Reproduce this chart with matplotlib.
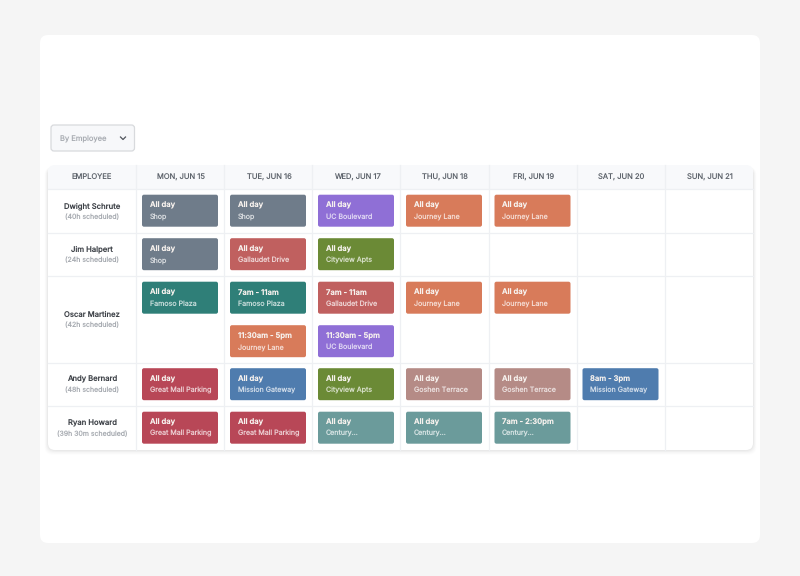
import matplotlib
matplotlib.use("Agg")
import matplotlib.pyplot as plt
from matplotlib.patches import FancyBboxPatch, Rectangle

plt.rcParams['font.family'] = ['Inter', 'DejaVu Sans']
plt.rcParams['text.hinting'] = 'none'
plt.rcParams['text.hinting_factor'] = 1

header_first = "EMPLOYEE"
days = ["MON, JUN 15", "TUE, JUN 16", "WED, JUN 17", "THU, JUN 18", "FRI, JUN 19", "SAT, JUN 20", "SUN, JUN 21"]
employees = ["Dwight Schrute", "Jim Halpert", "Oscar Martinez", "Andy Bernard", "Ryan Howard"]
scheduled = ["(40h scheduled)", "(24h scheduled)", "(42h scheduled)", "(48h scheduled)", "(39h 30m scheduled)"]
dropdown_label = "By Employee"

site_colors = {
    "Shop": "#6f7c8a", "UC Boulevard": "#8f6fd6", "Journey Lane": "#d87b5a",
    "Gallaudet Drive": "#c0605f", "Cityview Apts": "#6b8a36", "Famoso Plaza": "#2f7f78",
    "Great Mall Parking": "#b84757", "Mission Gateway": "#4f7cae",
    "Goshen Terrace": "#b58b86", "Century...": "#6b9b9b",
}

# employee index, day index, slot, time label, site
shifts = [
    (0, 0, 0, "All day", "Shop"), (0, 1, 0, "All day", "Shop"), (0, 2, 0, "All day", "UC Boulevard"),
    (0, 3, 0, "All day", "Journey Lane"), (0, 4, 0, "All day", "Journey Lane"),
    (1, 0, 0, "All day", "Shop"), (1, 1, 0, "All day", "Gallaudet Drive"), (1, 2, 0, "All day", "Cityview Apts"),
    (2, 0, 0, "All day", "Famoso Plaza"), (2, 1, 0, "7am - 11am", "Famoso Plaza"),
    (2, 1, 1, "11:30am - 5pm", "Journey Lane"), (2, 2, 0, "7am - 11am", "Gallaudet Drive"),
    (2, 2, 1, "11:30am - 5pm", "UC Boulevard"), (2, 3, 0, "All day", "Journey Lane"),
    (2, 4, 0, "All day", "Journey Lane"),
    (3, 0, 0, "All day", "Great Mall Parking"), (3, 1, 0, "All day", "Mission Gateway"),
    (3, 2, 0, "All day", "Cityview Apts"), (3, 3, 0, "All day", "Goshen Terrace"),
    (3, 4, 0, "All day", "Goshen Terrace"), (3, 5, 0, "8am - 3pm", "Mission Gateway"),
    (4, 0, 0, "All day", "Great Mall Parking"), (4, 1, 0, "All day", "Great Mall Parking"),
    (4, 2, 0, "All day", "Century..."), (4, 3, 0, "All day", "Century..."),
    (4, 4, 0, "7am - 2:30pm", "Century..."),
]

col_x = [48, 136, 224, 312, 400, 488.5, 576.5, 664.5, 753]
row_y = [189, 232.5, 276, 362.5, 406, 450]
top = 165
line = "#eef0f3"
txt = "#5f656d"

fig = plt.figure(figsize=(8, 5.76), dpi=100, facecolor="#f5f5f5")
ax = fig.add_axes([0, 0, 1, 1])
ax.set_xlim(0, 800)
ax.set_ylim(576, 0)
ax.axis("off")

def rbox(x0, y0, x1, y1, r, fc, ec="none", lw=0, z=1, alpha=None):
    p = FancyBboxPatch((x0 + r, y0 + r), x1 - x0 - 2 * r, y1 - y0 - 2 * r,
                       boxstyle=f"round,pad={r},rounding_size={r}", fc=fc, ec=ec, lw=lw, zorder=z, alpha=alpha)
    ax.add_patch(p)
    return p

# page card
rbox(40, 35, 760, 543, 8, "#ffffff", z=1)

# dropdown
rbox(51, 125, 134.5, 151, 3, "#f7f8fa", ec="#d8dadd", lw=0.9, z=2)
ax.text(60, 141, dropdown_label, fontsize=5.45, color="#a8acb2", va="baseline", ha="left", zorder=3)
ax.plot([120.5, 123, 125.5], [137, 139.5, 137], color="#50555c", lw=0.9, zorder=3)

# table shadow
for i, a in zip(range(7, 0, -1), [0.006, 0.008, 0.01, 0.012, 0.014, 0.016, 0.018]):
    rbox(col_x[0] - i * 0.5, top + 2, col_x[-1] + i * 0.5, row_y[-1] + i * 0.7, 8, "#000000", z=2, alpha=a)

# table body and header
rbox(col_x[0], top, col_x[-1], row_y[-1], 7, "#ffffff", z=3)
rbox(col_x[0], top, col_x[-1], row_y[0] + 8, 7, "#f8f9fb", z=3)
ax.add_patch(Rectangle((col_x[0], row_y[0]), col_x[-1] - col_x[0], 9, fc="#ffffff", ec="none", zorder=3))

# grid
for x in col_x[1:-1]:
    ax.plot([x, x], [top, row_y[-1]], color=line, lw=0.9, zorder=4)
for y in row_y[:-1]:
    ax.plot([col_x[0], col_x[-1]], [y, y], color=line, lw=0.9, zorder=4)

# header text
ax.text((col_x[0] + col_x[1]) / 2, 179.2, header_first, fontsize=5.45, color=txt, ha="center", va="baseline", zorder=5)
for i, d in enumerate(days):
    ax.text((col_x[i + 1] + col_x[i + 2]) / 2 + 1, 179.2, d, fontsize=5.45, color=txt, ha="center", va="baseline", zorder=5)

# employee labels
for i, (n, s) in enumerate(zip(employees, scheduled)):
    c = (row_y[i] + row_y[i + 1]) / 2
    ax.text((col_x[0] + col_x[1]) / 2, c - 2.8, n, fontsize=5.5, color="#3f4349", fontweight="medium",
            ha="center", va="baseline", zorder=5)
    ax.text((col_x[0] + col_x[1]) / 2, c + 8.2, s, fontsize=5.0, color="#a8acb2", ha="center", va="baseline", zorder=5)

# shift cards
for e, d, slot, t, site in shifts:
    x0 = col_x[d + 1] + 6
    y0 = row_y[e] + 5.7 + slot * 43.5
    x1, y1 = x0 + 76, y0 + 32
    rbox(x0, y0, x1, y1, 2, site_colors[site], z=5)
    ax.text(x0 + 7.5, y0 + 13, t, fontsize=5.5, color="#f7f2ee", fontweight="semibold", ha="left", va="baseline", zorder=6)
    ax.text(x0 + 7.5, y0 + 24, site, fontsize=5.1, color="#ffffff", alpha=0.72, ha="left", va="baseline", zorder=6)

fig.savefig("out.png", dpi=100, facecolor=fig.get_facecolor())
